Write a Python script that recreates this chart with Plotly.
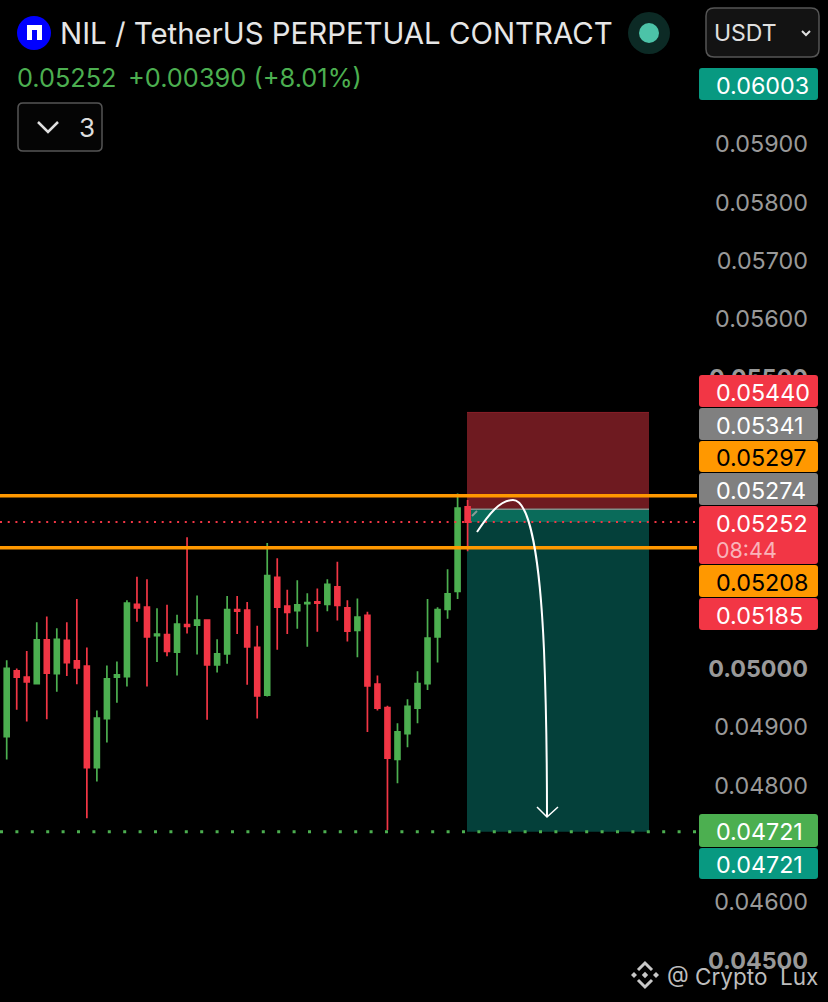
import plotly.graph_objects as go

# ---- data (prices) ----
opens = [0.04884,0.04997,0.04986,0.04975,0.05050,0.04992,0.05049,0.05014,0.05005,0.04831,0.04915,0.04986,0.04987,0.05111,0.05106,0.05057,0.05059,0.05029,0.05076,0.05075,0.05084,0.05007,0.05026,0.05102,0.05101,0.05037,0.04955,0.05157,0.05108,0.05100,0.05112,0.05115,0.05111,0.05141,0.05105,0.05066,0.05092,0.04974,0.04934,0.04845,0.04889,0.04933,0.04975,0.05055,0.05102,0.05133,0.05278]
highs = [0.05015,0.05001,0.05031,0.05080,0.05090,0.05070,0.05080,0.05120,0.05037,0.04929,0.05006,0.05013,0.05118,0.05158,0.05154,0.05104,0.05110,0.05093,0.05226,0.05126,0.05084,0.05051,0.05125,0.05125,0.05115,0.05074,0.05216,0.05190,0.05136,0.05152,0.05130,0.05138,0.05154,0.05184,0.05118,0.05121,0.05098,0.04989,0.04937,0.04907,0.04948,0.04996,0.05120,0.05106,0.05171,0.05301,0.05290]
lows = [0.04845,0.04930,0.04910,0.04975,0.04914,0.04961,0.04988,0.04974,0.04744,0.04807,0.04874,0.04942,0.04970,0.05081,0.04970,0.05012,0.05022,0.04989,0.05061,0.05025,0.04913,0.04994,0.05009,0.05060,0.04973,0.04915,0.04953,0.05033,0.05060,0.05069,0.05038,0.05064,0.05099,0.05083,0.05047,0.05020,0.04892,0.04929,0.04724,0.04804,0.04866,0.04907,0.04964,0.05011,0.05086,0.05120,0.05202]
closes = [0.05001,0.04986,0.04978,0.05050,0.04993,0.05051,0.05011,0.05002,0.04831,0.04916,0.04983,0.04990,0.05113,0.05105,0.05055,0.05060,0.05030,0.05077,0.05073,0.05084,0.05007,0.05026,0.05102,0.05099,0.05038,0.04954,0.05160,0.05106,0.05097,0.05110,0.05114,0.05113,0.05145,0.05109,0.05065,0.05089,0.04971,0.04933,0.04847,0.04892,0.04936,0.04975,0.05053,0.05102,0.05129,0.05276,0.05252]
tick_vals = [0.059,0.058,0.057,0.056,0.055,0.050,0.049,0.048,0.046,0.045]
tick_text = ["0.05900","0.05800","0.05700","0.05600","<b>0.05500</b>","<b>0.05000</b>","0.04900","0.04800","0.04600","<b>0.04500</b>"]
orange_levels = [0.05297,0.05208]
last_price = 0.05252
target = 0.04721
entry = 0.05274
stop = 0.05440
tags = [("0.06003",68,100,"#089981","#ffffff"),("0.05440",375,407,"#f23645","#ffffff"),
        ("0.05341",408,440,"#808080","#ffffff"),("0.05297",441,472,"#ff9800","#000000"),
        ("0.05274",473,505,"#808080","#ffffff"),("0.05208",565,597,"#ff9800","#000000"),
        ("0.05185",598,630,"#f23645","#ffffff"),("0.04721",814,847,"#4caf50","#ffffff"),
        ("0.04721",848,879,"#089981","#ffffff")]

W, H, PW = 828, 1002, 811
FONT = "Inter"
px = lambda x: x / PW
py = lambda y: 1 - y / H
idx = lambda x: (x - 6.7) / 10.02
price = lambda y: 0.05 + (669 - y) * 0.00001715

def path(cmds):
    out = []
    for c in cmds:
        if isinstance(c, str):
            out.append(c)
        else:
            out.append(f"{px(c[0]):.5f},{py(c[1]):.5f}")
    return " ".join(out)

def rrect(x0, y0, x1, y1, r=3):
    return path(["M",(x0+r,y0),"L",(x1-r,y0),"Q",(x1,y0),(x1,y0+r),"L",(x1,y1-r),"Q",(x1,y1),(x1-r,y1),
                 "L",(x0+r,y1),"Q",(x0,y1),(x0,y1-r),"L",(x0,y0+r),"Q",(x0,y0),(x0+r,y0),"Z"])

def pshape(d, fill=None, line=None, lw=0):
    return dict(type="path", xref="paper", yref="paper", path=d, layer="above",
                fillcolor=fill or "rgba(0,0,0,0)", line=dict(color=line or "rgba(0,0,0,0)", width=lw))

def txt(s, x, y, size, color, anchor="left"):
    return dict(text=s, xref="paper", yref="paper", x=px(x), y=py(y), xanchor=anchor, yanchor="middle",
                showarrow=False, font=dict(family=FONT, size=size, color=color), borderpad=0)

fig = go.Figure(go.Candlestick(
    x=list(range(len(opens))), open=opens, high=highs, low=lows, close=closes,
    increasing=dict(line=dict(color="#4caf50", width=1.7), fillcolor="#4caf50"),
    decreasing=dict(line=dict(color="#f23645", width=1.7), fillcolor="#f23645"),
    whiskerwidth=0, showlegend=False))

x0z, x1z = idx(467), idx(649)
xend = idx(697)
shapes = [
    dict(type="rect", x0=x0z, x1=x1z, y0=entry, y1=stop, fillcolor="#6e1a20", line_width=0, layer="below"),
    dict(type="rect", x0=x0z, x1=x1z, y0=last_price, y1=entry, fillcolor="#0a6b5a", line_width=0, layer="below"),
    dict(type="rect", x0=x0z, x1=x1z, y0=target, y1=last_price, fillcolor="#04403a", line_width=0, layer="below"),
    dict(type="line", x0=x0z, x1=x1z, y0=stop, y1=stop, line=dict(color="#8a1f28", width=1), layer="below"),
    dict(type="line", x0=x0z, x1=x1z, y0=entry, y1=entry, line=dict(color="#7f8f8a", width=1.5), layer="below"),
    dict(type="line", x0=idx(0), x1=xend, y0=last_price, y1=last_price, line=dict(color="#f23645", width=2, dash="2px 5.7px")),
    dict(type="line", x0=idx(0), x1=xend, y0=target, y1=target, line=dict(color="#4caf50", width=3, dash="3px 12.4px")),
]
for lv in orange_levels:
    shapes.append(dict(type="line", x0=idx(0), x1=xend, y0=lv, y1=lv, line=dict(color="#ff9800", width=3.6)))

# hand-drawn arrow and small pencil mark
shapes.append(pshape(path(["M",(477,532),"C",(489,514),(500,500),(513,500),"C",(530,500),(540,560),(544,650),"C",(546,700),(547,760),(547,817)]), line="#ffffff", lw=2))
shapes.append(pshape(path(["M",(537,807),"L",(547,817),"L",(558,807)]), line="#ffffff", lw=1.5))
shapes.append(pshape(path(["M",(472,516),"L",(477,511)]), line="#8a9a95", lw=2))
# header widgets
shapes.append(dict(type="circle", xref="paper", yref="paper", x0=px(17), x1=px(51), y0=py(50), y1=py(16), fillcolor="#0000ff", line_width=0, layer="above"))
shapes.append(pshape(path(["M",(27,25),"L",(42,25),"L",(42,40),"L",(37,40),"L",(37,30),"L",(32,30),"L",(32,40),"L",(27,40),"Z"]), fill="#ffffff"))
shapes.append(dict(type="circle", xref="paper", yref="paper", x0=px(628), x1=px(670), y0=py(54), y1=py(12), fillcolor="#0c2a25", line_width=0, layer="above"))
shapes.append(dict(type="circle", xref="paper", yref="paper", x0=px(639), x1=px(659), y0=py(43), y1=py(23), fillcolor="#4cc3a8", line_width=0, layer="above"))
shapes.append(pshape(rrect(706,8,819,57,8), fill="#131313", line="#555555", lw=1.5))
shapes.append(pshape(path(["M",(802,31),"L",(806,35),"L",(810,31)]), line="#e0e0e0", lw=2))
shapes.append(pshape(rrect(18,103,102,151,5), fill="#050505", line="#555555", lw=1.5))
shapes.append(pshape(path(["M",(38,122),"L",(48,132),"L",(58,122)]), line="#e0e0e0", lw=2.5))
# binance style watermark mark
for cx, cy, r in [(645,975,3.2),(634,975,3),(656,975,3)]:
    shapes.append(pshape(path(["M",(cx,cy-r),"L",(cx+r,cy),"L",(cx,cy+r),"L",(cx-r,cy),"Z"]), fill="#c8c8c8"))
shapes.append(pshape(path(["M",(638,970),"L",(645,963),"L",(652,970)]), line="#c8c8c8", lw=3))
shapes.append(pshape(path(["M",(638,980),"L",(645,987),"L",(652,980)]), line="#c8c8c8", lw=3))

annots = [
    txt("NIL / TetherUS PERPETUAL CONTRACT", 59, 33.5, 29.4, "#e6e6e6"),
    txt("0.05252", 15.5, 77.5, 25.3, "#4caf50"),
    txt("+0.00390 (+8.01%)", 127, 77.5, 25.4, "#4caf50"),
    txt("3", 78, 127.5, 26, "#dddddd"),
    txt("USDT", 713, 33, 23, "#e0e0e0"),
    txt("@ Crypto  Lux", 666, 976, 22.5, "#bdbdbd"),
]
# price tags
for s, y0, y1, bg, fg in tags:
    shapes.append(pshape(rrect(699,y0,818,y1,3), fill=bg))
    annots.append(txt(s, 714.5, (y0+y1)/2+1, 23.3, fg))
shapes.append(pshape(rrect(699,506,818,564,3), fill="#f23645"))
annots.append(txt(f"{last_price:.5f}", 714.5, 523, 23.3, "#ffffff"))
annots.append(txt("08:44", 714.5, 549.5, 21.5, "#f9b3b9"))

fig.update_layout(
    width=W, height=H, margin=dict(l=0, r=W-PW, t=0, b=0),
    paper_bgcolor="#000000", plot_bgcolor="#000000",
    shapes=shapes, annotations=annots, showlegend=False,
    xaxis=dict(range=[idx(0), idx(PW)], visible=False, rangeslider_visible=False, fixedrange=True),
    yaxis=dict(range=[price(H), price(0)], side="right", ticklabelposition="inside", tickmode="array",
               tickvals=tick_vals, ticktext=tick_text, showgrid=False, zeroline=False, showline=False, ticks="",
               tickfont=dict(family=FONT, size=23.3, color="#999999"), fixedrange=True),
)
fig.write_html("out.html", config={"displayModeBar": False},
               post_script="document.body.style.margin='0';document.body.style.background='#000';")
